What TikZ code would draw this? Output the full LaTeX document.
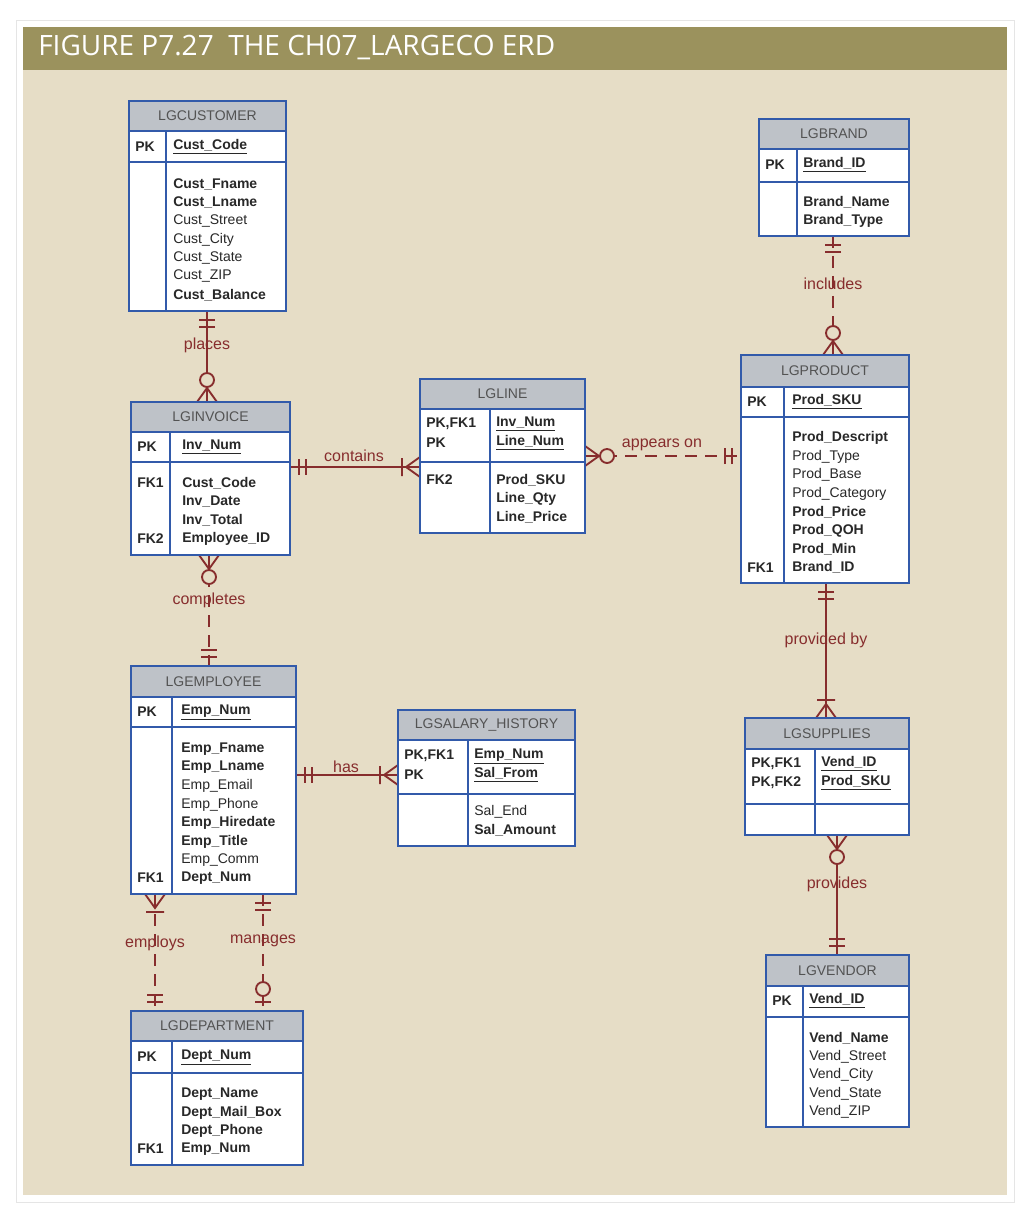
\documentclass[tikz,border=0pt]{standalone}
\usepackage{fontspec}
\setmainfont{Liberation Sans}
\newfontfamily\bannerfont{Open Sans}
\definecolor{bg}{RGB}{230,221,198}
\definecolor{banner}{RGB}{155,146,93}
\definecolor{relc}{RGB}{135,45,45}
\definecolor{eblue}{RGB}{50,90,170}
\definecolor{tgray}{RGB}{190,194,200}
\definecolor{txt}{RGB}{40,40,40}
\tikzset{
  rel/.style={relc, line width=1.6pt},
  ebox/.style={eblue, line width=1.3pt},
  fld/.style={anchor=west, inner sep=0pt, text=txt, font=\fontsize{10.5}{12}\selectfont},
  ttl/.style={inner sep=0pt, text=txt!80, font=\fontsize{10.5}{12}\selectfont},
  rlab/.style={inner sep=0pt, text=relc, font=\fontsize{12}{14}\selectfont},
  pics/two/.style={code={\draw[rel, line width=1.4pt] (9,-8)--(9,8) (16,-8)--(16,8);}},
  pics/crowO/.style={code={\draw[rel, line width=1.4pt] (0,-10)--(14,0)--(0,10) (0,0)--(14,0);
     \draw[rel, line width=1.4pt, fill=bg] (22,0) circle[radius=7];}},
  pics/crowI/.style={code={\draw[rel, line width=1.4pt] (0,-10)--(14,0)--(0,10) (0,0)--(14,0) (18,-9)--(18,9);}},
  pics/oneO/.style={code={\draw[rel, line width=1.4pt] (9,-8)--(9,8);
     \draw[rel, line width=1.4pt, fill=bg] (22,0) circle[radius=7];}},
}
% entity frame: x1 x2 xsplit ytop ypk yattr ybottom title
\newcommand\erent[8]{%
  \fill[tgray] (#1,#4) rectangle (#2,#5);
  \fill[white] (#1,#5) rectangle (#2,#7);
  \draw[ebox] (#1,#4) rectangle (#2,#7) (#1,#5)--(#2,#5) (#1,#6)--(#2,#6) (#3,#5)--(#3,#7);
  \node[ttl] at ({(#1+#2)/2},{(#4+#5)/2}) {#8};}
% field column: x y list
\newcommand\flds[3]{%
  \foreach \t [count=\i from 0] in {#3} \node[fld] at (#1,#2+18.5*\i) {\t};}
\newcommand\pkf[1]{\textbf{\underline{#1}}}
\begin{document}
\begin{tikzpicture}[x=0.75pt,y=-0.75pt]
\useasboundingbox (0,0) rectangle (1022,1212);
\fill[white] (0,0) rectangle (1022,1212);
\draw[black!10] (16,20) rectangle (1014,1202);
\fill[bg] (23,27) rectangle (1007,1195);
\fill[banner] (23,27) rectangle (1007,70);
\node[anchor=west, text=white, inner sep=0pt, font=\bannerfont\fontsize{21}{24}\selectfont] at (38,48) {FIGURE P7.27\ \ THE CH07\_LARGECO ERD};

% ---------- relationships (behind symbols)
\draw[rel] (207,311) -- (207,402);
\node[rlab] at (207,345) {places};
\draw[rel, dash pattern=on 9pt off 6pt] (833,236) -- (833,355);
\node[rlab] at (833,284) {includes};
\draw[rel] (290,467) -- (420,467);
\node[rlab] at (354,456) {contains};
\draw[rel, dash pattern=on 9pt off 6pt] (585,456) -- (741,456);
\node[rlab] at (662,445) {appears on};
\draw[rel, dash pattern=on 9pt off 6pt] (209,555) -- (209,666);
\node[rlab] at (209,600) {completes};
\draw[rel] (826,583) -- (826,718);
\node[rlab] at (826,640) {provided by};
\draw[rel] (296,775) -- (398,775);
\node[rlab] at (346,767) {has};
\draw[rel] (837,835) -- (837,955);
\node[rlab] at (837,884) {provides};
\draw[rel, dash pattern=on 9pt off 6pt] (155,894) -- (155,1011);
\node[rlab] at (155,943) {employs};
\draw[rel, dash pattern=on 9pt off 6pt] (263,894) -- (263,1011);
\node[rlab] at (263,941) {manages};

\pic[rotate=-90] at (207,311) {two};
\pic[rotate=90] at (207,402) {crowO};
\pic[rotate=-90] at (833,236) {two};
\pic[rotate=90] at (833,355) {crowO};
\pic at (290,467) {two};
\pic[rotate=180] at (420,467) {crowI};
\pic at (585,456) {crowO};
\pic[rotate=180] at (741,456) {two};
\pic[rotate=-90] at (209,555) {crowO};
\pic[rotate=90] at (209,666) {two};
\pic[rotate=-90] at (826,583) {two};
\pic[rotate=90] at (826,718) {crowI};
\pic at (296,775) {two};
\pic[rotate=180] at (398,775) {crowI};
\pic[rotate=-90] at (837,835) {crowO};
\pic[rotate=90] at (837,955) {two};
\pic[rotate=-90] at (155,894) {crowI};
\pic[rotate=90] at (155,1011) {two};
\pic[rotate=-90] at (263,894) {two};
\pic[rotate=90] at (263,1011) {oneO};

% ---------- entities
\erent{129}{286}{166}{101}{131}{162}{311}{LGCUSTOMER}
\flds{135}{147}{\textbf{PK}}
\flds{173}{147}{\pkf{Cust\_Code}}
\flds{173}{184}{\textbf{Cust\_Fname},\textbf{Cust\_Lname},Cust\_Street,Cust\_City,Cust\_State,Cust\_ZIP,\textbf{Cust\_Balance}}

\erent{759}{909}{797}{119}{149}{182}{236}{LGBRAND}
\flds{765}{165}{\textbf{PK}}
\flds{803}{165}{\pkf{Brand\_ID}}
\flds{803}{202}{\textbf{Brand\_Name},\textbf{Brand\_Type}}

\erent{131}{290}{170}{402}{432}{462}{555}{LGINVOICE}
\flds{137}{447}{\textbf{PK}}
\flds{182}{447}{\pkf{Inv\_Num}}
\flds{137}{483}{\textbf{FK1},\phantom{X},\phantom{X},\textbf{FK2}}
\flds{182}{483}{\textbf{Cust\_Code},\textbf{Inv\_Date},\textbf{Inv\_Total},\textbf{Employee\_ID}}

\erent{420}{585}{490}{379}{409}{462}{533}{LGLINE}
\flds{426}{424}{\textbf{{PK,FK1}},\textbf{PK}}
\flds{496}{424}{\pkf{Inv\_Num},\pkf{Line\_Num}}
\flds{426}{480}{\textbf{FK2}}
\flds{496}{480}{\textbf{Prod\_SKU},\textbf{Line\_Qty},\textbf{Line\_Price}}

\erent{741}{909}{784}{355}{387}{417}{583}{LGPRODUCT}
\flds{747}{402}{\textbf{PK}}
\flds{792}{402}{\pkf{Prod\_SKU}}
\flds{747}{568}{\textbf{FK1}}
\flds{792}{438}{\textbf{Prod\_Descript},Prod\_Type,Prod\_Base,Prod\_Category,\textbf{Prod\_Price},\textbf{Prod\_QOH},\textbf{Prod\_Min},\textbf{Brand\_ID}}

\erent{131}{296}{172}{666}{697}{727}{894}{LGEMPLOYEE}
\flds{137}{712}{\textbf{PK}}
\flds{181}{712}{\pkf{Emp\_Num}}
\flds{137}{878}{\textbf{FK1}}
\flds{181}{749}{\textbf{Emp\_Fname},\textbf{Emp\_Lname},Emp\_Email,Emp\_Phone,\textbf{Emp\_Hiredate},\textbf{Emp\_Title},Emp\_Comm,\textbf{Dept\_Num}}

\erent{398}{575}{468}{710}{740}{794}{846}{LGSALARY\_HISTORY}
\flds{404}{756}{\textbf{{PK,FK1}},\textbf{PK}}
\flds{474}{756}{\pkf{Emp\_Num},\pkf{Sal\_From}}
\flds{474}{812}{Sal\_End,\textbf{Sal\_Amount}}

\erent{745}{909}{815}{718}{749}{804}{835}{LGSUPPLIES}
\flds{751}{764}{\textbf{{PK,FK1}},\textbf{{PK,FK2}}}
\flds{821}{764}{\pkf{Vend\_ID},\pkf{Prod\_SKU}}

\erent{131}{303}{172}{1011}{1041}{1073}{1165}{LGDEPARTMENT}
\flds{137}{1057}{\textbf{PK}}
\flds{181}{1057}{\pkf{Dept\_Num}}
\flds{137}{1149}{\textbf{FK1}}
\flds{181}{1094}{\textbf{Dept\_Name},\textbf{Dept\_Mail\_Box},\textbf{Dept\_Phone},\textbf{Emp\_Num}}

\erent{766}{909}{803}{955}{986}{1017}{1127}{LGVENDOR}
\flds{772}{1001}{\textbf{PK}}
\flds{809}{1001}{\pkf{Vend\_ID}}
\flds{809}{1038}{\textbf{Vend\_Name},Vend\_Street,Vend\_City,Vend\_State,Vend\_ZIP}
\end{tikzpicture}
\end{document}
